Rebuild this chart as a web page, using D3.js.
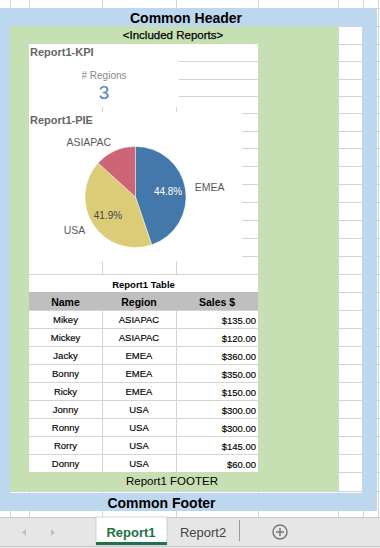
<!DOCTYPE html>
<html><head><meta charset="utf-8">
<script src="https://cdn.jsdelivr.net/npm/d3@7/dist/d3.min.js"></script>
<style>html,body{margin:0;padding:0;background:#fff;overflow:hidden}svg{display:block}</style>
</head><body><svg id="c" width="380" height="548"></svg>
<script>
// ---------- data ----------
const names   = ["Mikey","Mickey","Jacky","Bonny","Ricky","Jonny","Ronny","Rorry","Donny"];
const regions = ["ASIAPAC","ASIAPAC","EMEA","EMEA","EMEA","USA","USA","USA","USA"];
const sales   = [135,120,360,350,150,300,300,145,60];
const tableColumns = ["Name","Region","Sales $"];
const regionColors = {EMEA:"#4477aa", USA:"#ddcc77", ASIAPAC:"#cc6677"};
const kpiLabel = "# Regions";
const sheetTabs = ["Report1","Report2"];
const texts = {header:"Common Header", included:"<Included Reports>", kpiTitle:"Report1-KPI",
  pieTitle:"Report1-PIE", tableTitle:"Report1 Table", reportFooter:"Report1 FOOTER", footer:"Common Footer"};

// ---------- layout ----------
const colX = [10,29,102,176,258,338,362.5,377.5];
const rowY = [8,26,44,61,79,96,113,131,148,166,184,202,220,238,256,274,292,310,328,346,364,382,400,418,436,454,472,491];
const GRID = "#d4d4d4", BLUE = "#bdd7ee", GREEN = "#c6e0b4";
const FONT = "Arial, 'Liberation Sans', sans-serif";

const svg = d3.select("#c");
svg.append("rect").attr("width",380).attr("height",548).attr("fill","#fff");

// full-sheet grid
const g0 = svg.append("g").attr("stroke",GRID).attr("stroke-width",1).attr("shape-rendering","crispEdges");
g0.selectAll("line.v").data(colX).join("line").attr("x1",d=>Math.round(d)+0.5).attr("x2",d=>Math.round(d)+0.5).attr("y1",0).attr("y2",517);
g0.selectAll("line.h").data(rowY).join("line").attr("x1",0).attr("x2",380).attr("y1",d=>d+0.5).attr("y2",d=>d+0.5);

// blue frame
const fills = svg.append("g").attr("shape-rendering","crispEdges");
fills.append("rect").attr("x",0).attr("y",8).attr("width",377).attr("height",18).attr("fill",BLUE);
fills.append("rect").attr("x",0).attr("y",8).attr("width",10).attr("height",503).attr("fill",BLUE);
fills.append("rect").attr("x",362).attr("y",8).attr("width",15).attr("height",503).attr("fill",BLUE);
fills.append("rect").attr("x",0).attr("y",493).attr("width",377).attr("height",18).attr("fill",BLUE);
// green report area
fills.append("rect").attr("x",10).attr("y",26).attr("width",328).attr("height",465).attr("fill",GREEN);
// white inner sheet area
fills.append("rect").attr("x",29).attr("y",44).attr("width",229).attr("height",428).attr("fill","#fff");

// inner grid
svg.append("clipPath").attr("id","inner").append("rect").attr("x",29).attr("y",44).attr("width",229).attr("height",428);
const g1 = svg.append("g").attr("clip-path","url(#inner)").attr("stroke",GRID).attr("shape-rendering","crispEdges");
g1.selectAll("line.v").data([102,176]).join("line").attr("x1",d=>d+0.5).attr("x2",d=>d+0.5).attr("y1",44).attr("y2",472);
g1.selectAll("line.h").data(rowY.filter(d=>d>44&&d<472)).join("line").attr("x1",29).attr("x2",258).attr("y1",d=>d+0.5).attr("y2",d=>d+0.5);

// header texts
svg.append("text").attr("x",186).attr("y",23).attr("text-anchor","middle").attr("font-family",FONT)
  .attr("font-weight","bold").attr("font-size",14).attr("fill","#000").text(texts.header);
svg.append("text").attr("x",173).attr("y",39).attr("text-anchor","middle").attr("font-family",FONT)
  .attr("font-size",11.5).attr("fill","#000").attr("stroke","#000").attr("stroke-width",0.25).text(texts.included);

// ---------- KPI object ----------
const kpi = svg.append("g");
kpi.append("rect").attr("x",29).attr("y",44).attr("width",150).attr("height",63).attr("fill","#fff");
kpi.append("text").attr("x",30).attr("y",55.5).attr("font-family",FONT).attr("font-weight","bold")
  .attr("font-size",11).attr("fill","#666").text(texts.kpiTitle);
const regionCount = new Set(regions).size;
kpi.append("text").attr("x",104).attr("y",79).attr("text-anchor","middle").attr("font-family",FONT)
  .attr("font-size",10).attr("fill","#888").text(kpiLabel);
kpi.append("text").attr("x",104).attr("y",99).attr("text-anchor","middle").attr("font-family",FONT)
  .attr("font-size",19).attr("fill","#4f82b8").text(regionCount);

// ---------- PIE object ----------
const pieG = svg.append("g");
pieG.append("rect").attr("x",29).attr("y",112).attr("width",213).attr("height",149).attr("fill","#fff");
pieG.append("text").attr("x",30).attr("y",123.5).attr("font-family",FONT).attr("font-weight","bold")
  .attr("font-size",11).attr("fill","#666").text(texts.pieTitle);

const totals = d3.rollups(regions.map((r,i)=>({r,v:sales[i]})), v=>d3.sum(v,d=>d.v), d=>d.r)
  .map(([key,value])=>({key,value})).sort((a,b)=>b.value-a.value);
const grand = d3.sum(totals,d=>d.value);
const cx = 135.5, cy = 197, R = 50.5;
const pie = d3.pie().sort(null).value(d=>d.value);
const arcs = pie(totals);
const arc = d3.arc().innerRadius(0).outerRadius(R);
const inArc = d3.arc().innerRadius(33).outerRadius(33);
const outArc = d3.arc().innerRadius(60).outerRadius(60);
const pc = pieG.append("g").attr("transform",`translate(${cx},${cy})`);
pc.selectAll("path").data(arcs).join("path").attr("d",arc).attr("fill",d=>regionColors[d.data.key])
  .attr("stroke","#fff").attr("stroke-width",0.4);
const fmt = d3.format(".1%");
pc.selectAll("text.pct").data(arcs.filter(d=>d.data.value/grand>0.2)).join("text").attr("class","pct")
  .attr("x",d=>inArc.centroid(d)[0]).attr("y",d=>inArc.centroid(d)[1]).attr("dy","0.35em")
  .attr("text-anchor","middle").attr("font-family",FONT).attr("font-size",10)
  .attr("fill",d=>d.data.key==="EMEA"?"#fff":"#444").text(d=>fmt(d.data.value/grand));
pc.selectAll("text.lbl").data(arcs).join("text").attr("class","lbl")
  .attr("x",d=>outArc.centroid(d)[0]).attr("y",d=>outArc.centroid(d)[1]).attr("dy","0.35em")
  .attr("text-anchor",d=>outArc.centroid(d)[0]>0?"start":"end").attr("font-family",FONT).attr("font-size",10.5)
  .attr("fill","#595959").text(d=>d.data.key);

// ---------- table ----------
const tbl = svg.append("g");
tbl.append("rect").attr("x",29.5).attr("y",275).attr("width",228).attr("height",17).attr("fill","#fff");
tbl.append("text").attr("x",143.5).attr("y",288).attr("text-anchor","middle").attr("font-family",FONT)
  .attr("font-weight","bold").attr("font-size",9.5).attr("fill","#000").text(texts.tableTitle);
const colStart = d3.scaleOrdinal().domain(tableColumns).range([29,102,176]);
const colEnd = d3.scaleOrdinal().domain(tableColumns).range([102,176,258]);
tbl.append("rect").attr("x",29).attr("y",292).attr("width",229).attr("height",18).attr("fill","#bfbfbf");
tbl.selectAll("text.hd").data(tableColumns).join("text").attr("class","hd")
  .attr("x",d=>(colStart(d)+colEnd(d))/2).attr("y",306).attr("text-anchor","middle")
  .attr("font-family",FONT).attr("font-weight","bold").attr("font-size",10.5).attr("fill","#000").text(d=>d);
const rowScale = d3.scaleBand().domain(d3.range(names.length)).range([310,472]);
const money = d3.format("$,.2f");
const rows = tbl.selectAll("g.row").data(names.map((n,i)=>({n,r:regions[i],s:sales[i],i}))).join("g")
  .attr("transform",d=>`translate(0,${rowScale(d.i)})`).attr("font-family",FONT).attr("font-size",9.5)
  .attr("fill","#000").attr("stroke","#000").attr("stroke-width",0.15);
rows.append("text").attr("x",(colStart("Name")+colEnd("Name"))/2).attr("y",13).attr("text-anchor","middle").text(d=>d.n);
rows.append("text").attr("x",(colStart("Region")+colEnd("Region"))/2).attr("y",13).attr("text-anchor","middle").text(d=>d.r);
rows.append("text").attr("x",colEnd("Sales $")-2).attr("y",14).attr("text-anchor","end").text(d=>money(d.s));

// footers
svg.append("text").attr("x",172).attr("y",485).attr("text-anchor","middle").attr("font-family",FONT)
  .attr("font-size",11.5).attr("fill","#000").text(texts.reportFooter);
svg.append("text").attr("x",161.5).attr("y",508).attr("text-anchor","middle").attr("font-family",FONT)
  .attr("font-weight","bold").attr("font-size",14).attr("fill","#000").text(texts.footer);

// ---------- tab bar ----------
const tb = svg.append("g");
tb.append("rect").attr("x",0).attr("y",517).attr("width",380).attr("height",31).attr("fill","#e6e6e6");
tb.append("line").attr("x1",0).attr("x2",380).attr("y1",517.5).attr("y2",517.5).attr("stroke","#c8c8c8");
tb.append("line").attr("x1",0).attr("x2",380).attr("y1",546.5).attr("y2",546.5).attr("stroke","#c8c8c8");
tb.append("rect").attr("x",96).attr("y",517).attr("width",71).attr("height",28).attr("fill","#fff")
  .attr("stroke","#c8c8c8").attr("stroke-width",0.8);
tb.append("rect").attr("x",96).attr("y",542).attr("width",71).attr("height",3).attr("fill","#217346");
tb.append("path").attr("d","M26,529 L22,532.5 L26,536 Z").attr("fill","#c0c0c0");
tb.append("path").attr("d","M51,529 L55,532.5 L51,536 Z").attr("fill","#c0c0c0");
const tabX = d3.scaleOrdinal().domain(sheetTabs).range([131,203]);
tb.selectAll("text.tab").data(sheetTabs).join("text").attr("class","tab")
  .attr("x",d=>tabX(d)).attr("y",536.5).attr("text-anchor","middle").attr("font-family",FONT)
  .attr("font-size",13).attr("font-weight",(d,i)=>i===0?"bold":"normal")
  .attr("fill",(d,i)=>i===0?"#217346":"#444").text(d=>d);
tb.append("line").attr("x1",239.5).attr("x2",239.5).attr("y1",520).attr("y2",541).attr("stroke","#9a9a9a");
tb.append("circle").attr("cx",280).attr("cy",532).attr("r",7).attr("fill","none").attr("stroke","#7a7a7a").attr("stroke-width",1.5);
tb.append("path").attr("d","M276,532 H284 M280,528 V536").attr("stroke","#7a7a7a").attr("stroke-width",1.5);
</script></body></html>
